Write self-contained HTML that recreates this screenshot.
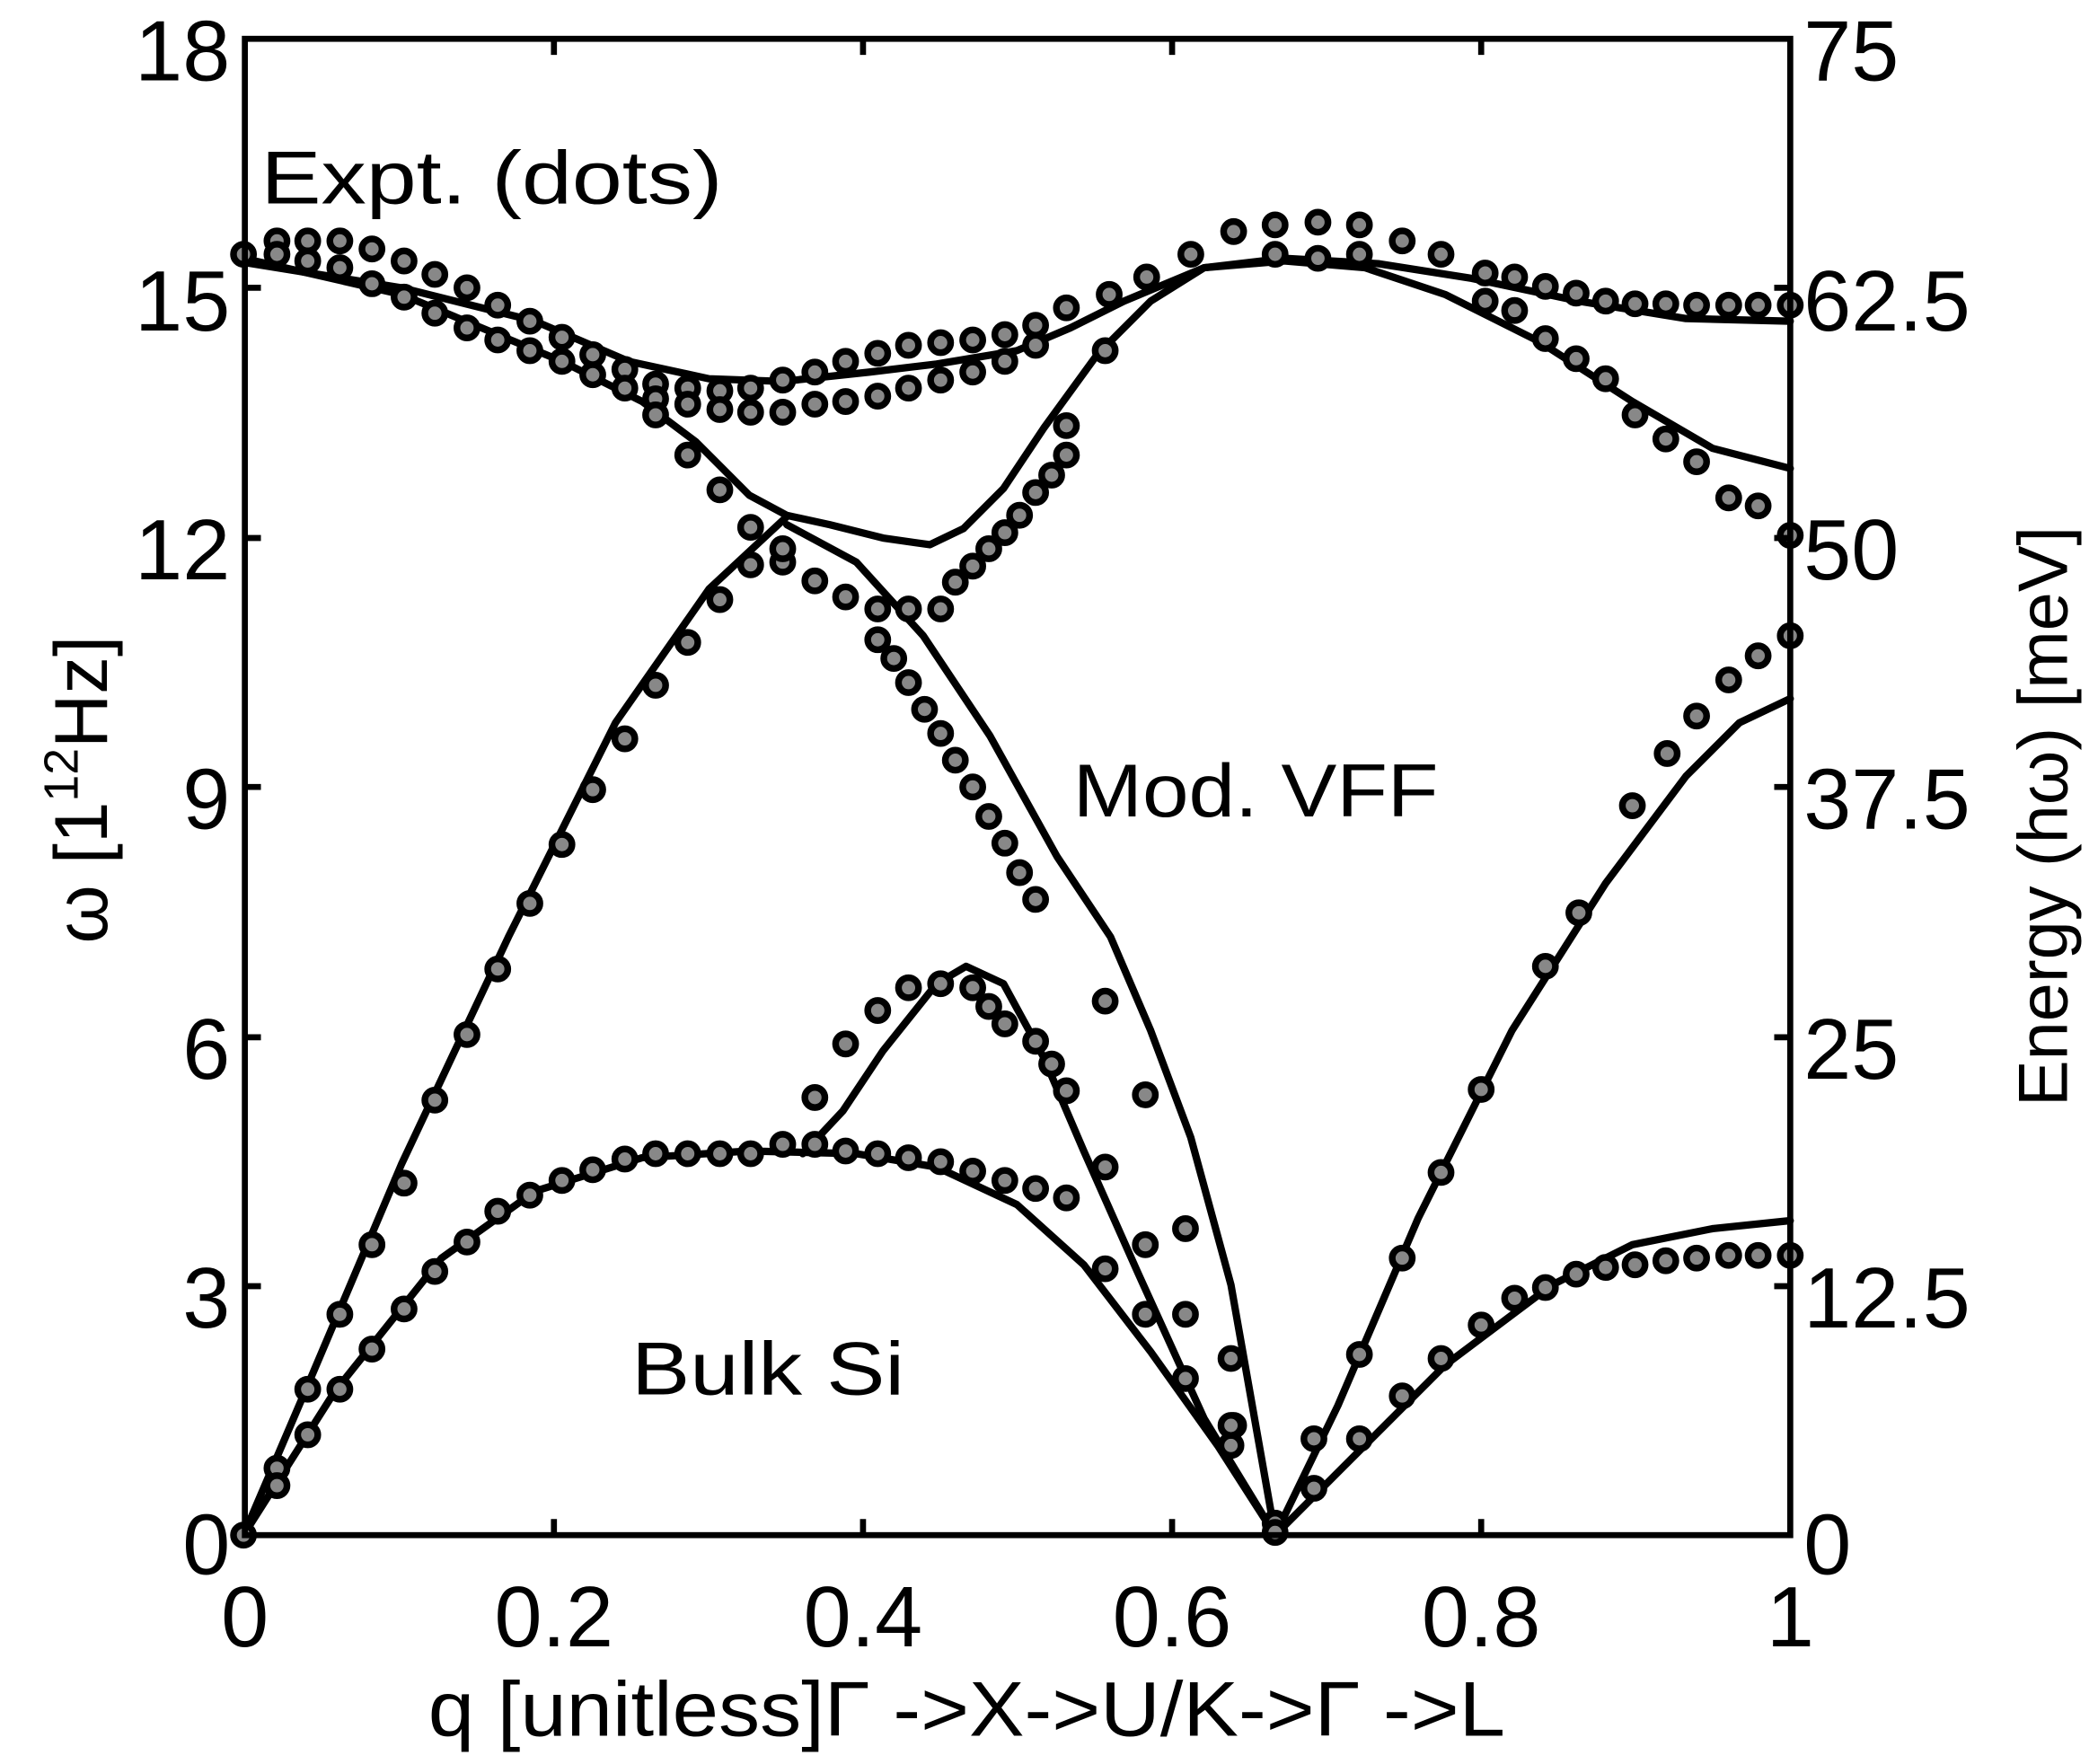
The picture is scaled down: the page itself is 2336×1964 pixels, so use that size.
<!DOCTYPE html>
<html><head><meta charset="utf-8"><style>html,body{margin:0;padding:0;background:#fff}svg{display:block}</style></head>
<body>
<svg width="2336" height="1964" viewBox="0 0 1568 1318" preserveAspectRatio="none" xmlns="http://www.w3.org/2000/svg" font-family="Liberation Sans, DejaVu Sans, sans-serif">
<rect width="1568" height="1318" fill="#fff"/>
<g fill="none" stroke="#000" stroke-width="5.5" stroke-linejoin="round" stroke-linecap="round">
<path d="M182,196 L300,215 L400,240 L470,270 L530,283 L585,285 L650,278 L700,272 L760,262 L800,245 L840,225 L900,200 L960,193 L1030,197 L1100,208 L1180,225 L1260,238 L1338,240"/>
<path d="M182,193 L300,220 L420,270 L480,300 L520,330 L560,370 L588,385 L620,392 L660,402 L695,407 L720,395 L750,365 L780,320 L820,265 L860,225 L900,200 L960,195 L1020,200 L1080,220 L1150,255 L1220,300 L1280,335 L1338,350"/>
<path d="M182,1147 L230,1035 L300,870 L380,700 L460,540 L530,440 L588,386"/>
<path d="M588,392 L640,420 L690,475 L740,550 L790,640 L830,700 L860,770 L890,850 L920,960 L953,1147"/>
<path d="M182,1147 L250,1040 L330,940 L400,890 L480,865 L560,860 L640,862 L700,872 L760,900 L810,945 L860,1010 L910,1080 L953,1147"/>
<path d="M600,862 L630,830 L660,785 L700,735 L722,722 L750,735 L780,790 L810,860 L850,950 L900,1060 L953,1147"/>
<path d="M953,1147 L1000,1050 L1060,910 L1130,770 L1200,660 L1260,580 L1300,540 L1338,522"/>
<path d="M953,1147 L1000,1100 L1080,1020 L1160,960 L1220,930 L1280,918 L1338,912"/>
</g>
<g fill="#888" stroke="#000" stroke-width="5">
<circle cx="182" cy="190" r="7.5"/><circle cx="207" cy="180" r="7.5"/><circle cx="230" cy="180" r="7.5"/><circle cx="254" cy="180" r="7.5"/><circle cx="278" cy="186" r="7.5"/><circle cx="302" cy="195" r="7.5"/><circle cx="325" cy="205" r="7.5"/><circle cx="349" cy="215" r="7.5"/><circle cx="372" cy="228" r="7.5"/><circle cx="396" cy="240" r="7.5"/><circle cx="420" cy="252" r="7.5"/><circle cx="443" cy="265" r="7.5"/><circle cx="467" cy="276" r="7.5"/><circle cx="490" cy="287" r="7.5"/><circle cx="514" cy="290" r="7.5"/><circle cx="538" cy="292" r="7.5"/><circle cx="561" cy="290" r="7.5"/><circle cx="585" cy="284" r="7.5"/><circle cx="609" cy="278" r="7.5"/><circle cx="632" cy="270" r="7.5"/><circle cx="656" cy="264" r="7.5"/><circle cx="679" cy="258" r="7.5"/><circle cx="703" cy="256" r="7.5"/><circle cx="727" cy="254" r="7.5"/><circle cx="751" cy="250" r="7.5"/><circle cx="774" cy="243" r="7.5"/><circle cx="797" cy="230" r="7.5"/><circle cx="829" cy="220" r="7.5"/><circle cx="857" cy="207" r="7.5"/><circle cx="890" cy="190" r="7.5"/><circle cx="922" cy="173" r="7.5"/><circle cx="953" cy="168" r="7.5"/><circle cx="985" cy="166" r="7.5"/><circle cx="1016" cy="168" r="7.5"/><circle cx="1048" cy="180" r="7.5"/><circle cx="1077" cy="190" r="7.5"/><circle cx="1110" cy="204" r="7.5"/><circle cx="1132" cy="207" r="7.5"/><circle cx="1155" cy="214" r="7.5"/><circle cx="1178" cy="219" r="7.5"/><circle cx="1200" cy="225" r="7.5"/><circle cx="1222" cy="227" r="7.5"/><circle cx="1245" cy="227" r="7.5"/><circle cx="1268" cy="228" r="7.5"/><circle cx="1292" cy="228" r="7.5"/><circle cx="1314" cy="228" r="7.5"/><circle cx="1338" cy="228" r="7.5"/>
<circle cx="207" cy="190" r="7.5"/><circle cx="230" cy="195" r="7.5"/><circle cx="254" cy="200" r="7.5"/><circle cx="278" cy="212" r="7.5"/><circle cx="302" cy="222" r="7.5"/><circle cx="325" cy="234" r="7.5"/><circle cx="349" cy="245" r="7.5"/><circle cx="372" cy="254" r="7.5"/><circle cx="396" cy="262" r="7.5"/><circle cx="420" cy="270" r="7.5"/><circle cx="443" cy="280" r="7.5"/><circle cx="467" cy="290" r="7.5"/><circle cx="490" cy="298" r="7.5"/><circle cx="514" cy="302" r="7.5"/><circle cx="538" cy="306" r="7.5"/><circle cx="561" cy="308" r="7.5"/><circle cx="585" cy="308" r="7.5"/><circle cx="609" cy="302" r="7.5"/><circle cx="632" cy="300" r="7.5"/><circle cx="656" cy="296" r="7.5"/><circle cx="679" cy="290" r="7.5"/><circle cx="703" cy="284" r="7.5"/><circle cx="727" cy="278" r="7.5"/><circle cx="751" cy="270" r="7.5"/><circle cx="774" cy="258" r="7.5"/><circle cx="953" cy="190" r="7.5"/><circle cx="985" cy="193" r="7.5"/><circle cx="1016" cy="190" r="7.5"/>
<circle cx="1110" cy="225" r="7.5"/><circle cx="1132" cy="232" r="7.5"/><circle cx="1155" cy="253" r="7.5"/><circle cx="1178" cy="268" r="7.5"/><circle cx="1200" cy="283" r="7.5"/><circle cx="1222" cy="310" r="7.5"/><circle cx="1245" cy="328" r="7.5"/><circle cx="1268" cy="345" r="7.5"/><circle cx="1292" cy="372" r="7.5"/><circle cx="1314" cy="378" r="7.5"/><circle cx="1338" cy="400" r="7.5"/>
<circle cx="490" cy="310" r="7.5"/><circle cx="514" cy="340" r="7.5"/><circle cx="538" cy="366" r="7.5"/><circle cx="561" cy="394" r="7.5"/><circle cx="585" cy="420" r="7.5"/><circle cx="609" cy="434" r="7.5"/><circle cx="632" cy="446" r="7.5"/><circle cx="656" cy="455" r="7.5"/><circle cx="679" cy="455" r="7.5"/><circle cx="703" cy="455" r="7.5"/><circle cx="714" cy="435" r="7.5"/><circle cx="727" cy="423" r="7.5"/><circle cx="739" cy="410" r="7.5"/><circle cx="751" cy="398" r="7.5"/><circle cx="762" cy="385" r="7.5"/><circle cx="774" cy="368" r="7.5"/><circle cx="786" cy="355" r="7.5"/><circle cx="797" cy="340" r="7.5"/><circle cx="797" cy="318" r="7.5"/><circle cx="826" cy="262" r="7.5"/>
<circle cx="656" cy="478" r="7.5"/><circle cx="668" cy="492" r="7.5"/><circle cx="679" cy="510" r="7.5"/><circle cx="691" cy="530" r="7.5"/><circle cx="703" cy="548" r="7.5"/><circle cx="714" cy="568" r="7.5"/><circle cx="727" cy="588" r="7.5"/><circle cx="739" cy="610" r="7.5"/><circle cx="751" cy="630" r="7.5"/><circle cx="762" cy="652" r="7.5"/><circle cx="774" cy="672" r="7.5"/><circle cx="826" cy="748" r="7.5"/><circle cx="856" cy="818" r="7.5"/><circle cx="886" cy="918" r="7.5"/><circle cx="920" cy="1015" r="7.5"/><circle cx="922" cy="1065" r="7.5"/><circle cx="953" cy="1138" r="7.5"/>
<circle cx="182" cy="1147" r="7.5"/><circle cx="207" cy="1097" r="7.5"/><circle cx="230" cy="1038" r="7.5"/><circle cx="254" cy="982" r="7.5"/><circle cx="278" cy="930" r="7.5"/><circle cx="302" cy="884" r="7.5"/><circle cx="325" cy="822" r="7.5"/><circle cx="349" cy="773" r="7.5"/><circle cx="372" cy="724" r="7.5"/><circle cx="396" cy="675" r="7.5"/><circle cx="420" cy="631" r="7.5"/><circle cx="443" cy="590" r="7.5"/><circle cx="467" cy="552" r="7.5"/><circle cx="490" cy="512" r="7.5"/><circle cx="514" cy="480" r="7.5"/><circle cx="538" cy="448" r="7.5"/><circle cx="561" cy="422" r="7.5"/><circle cx="585" cy="410" r="7.5"/>
<circle cx="207" cy="1110" r="7.5"/><circle cx="230" cy="1072" r="7.5"/><circle cx="254" cy="1038" r="7.5"/><circle cx="278" cy="1008" r="7.5"/><circle cx="302" cy="978" r="7.5"/><circle cx="325" cy="950" r="7.5"/><circle cx="349" cy="928" r="7.5"/><circle cx="372" cy="905" r="7.5"/><circle cx="396" cy="893" r="7.5"/><circle cx="420" cy="882" r="7.5"/><circle cx="443" cy="874" r="7.5"/><circle cx="467" cy="866" r="7.5"/><circle cx="490" cy="862" r="7.5"/><circle cx="514" cy="862" r="7.5"/><circle cx="538" cy="862" r="7.5"/><circle cx="561" cy="862" r="7.5"/><circle cx="585" cy="855" r="7.5"/><circle cx="609" cy="855" r="7.5"/><circle cx="632" cy="860" r="7.5"/><circle cx="656" cy="862" r="7.5"/><circle cx="679" cy="865" r="7.5"/><circle cx="703" cy="868" r="7.5"/><circle cx="727" cy="875" r="7.5"/><circle cx="751" cy="882" r="7.5"/><circle cx="774" cy="888" r="7.5"/><circle cx="797" cy="895" r="7.5"/><circle cx="826" cy="948" r="7.5"/><circle cx="856" cy="982" r="7.5"/><circle cx="886" cy="1030" r="7.5"/><circle cx="920" cy="1080" r="7.5"/><circle cx="953" cy="1145" r="7.5"/>
<circle cx="609" cy="820" r="7.5"/><circle cx="632" cy="780" r="7.5"/><circle cx="656" cy="755" r="7.5"/><circle cx="679" cy="738" r="7.5"/><circle cx="703" cy="735" r="7.5"/><circle cx="727" cy="738" r="7.5"/><circle cx="739" cy="752" r="7.5"/><circle cx="751" cy="765" r="7.5"/><circle cx="774" cy="778" r="7.5"/><circle cx="786" cy="795" r="7.5"/><circle cx="797" cy="815" r="7.5"/><circle cx="826" cy="872" r="7.5"/><circle cx="856" cy="930" r="7.5"/><circle cx="886" cy="982" r="7.5"/><circle cx="920" cy="1065" r="7.5"/>
<circle cx="982" cy="1075" r="7.5"/><circle cx="1016" cy="1012" r="7.5"/><circle cx="1048" cy="940" r="7.5"/><circle cx="1077" cy="876" r="7.5"/><circle cx="1107" cy="814" r="7.5"/><circle cx="1155" cy="722" r="7.5"/><circle cx="1180" cy="682" r="7.5"/><circle cx="1220" cy="602" r="7.5"/><circle cx="1246" cy="563" r="7.5"/><circle cx="1268" cy="535" r="7.5"/><circle cx="1292" cy="508" r="7.5"/><circle cx="1314" cy="490" r="7.5"/><circle cx="1338" cy="475" r="7.5"/>
<circle cx="982" cy="1112" r="7.5"/><circle cx="1016" cy="1075" r="7.5"/><circle cx="1048" cy="1043" r="7.5"/><circle cx="1077" cy="1015" r="7.5"/><circle cx="1107" cy="990" r="7.5"/><circle cx="1132" cy="970" r="7.5"/><circle cx="1155" cy="962" r="7.5"/><circle cx="1178" cy="952" r="7.5"/><circle cx="1200" cy="947" r="7.5"/><circle cx="1222" cy="945" r="7.5"/><circle cx="1245" cy="942" r="7.5"/><circle cx="1268" cy="940" r="7.5"/><circle cx="1292" cy="938" r="7.5"/><circle cx="1314" cy="938" r="7.5"/><circle cx="1338" cy="938" r="7.5"/>
</g>
<g stroke="#000" stroke-width="4.5" fill="none">
<rect x="183" y="29" width="1155" height="1118"/>
<path d="M183,215h12M183,402h12M183,588h12M183,775h12M183,961h12M1338,215h-12M1338,402h-12M1338,588h-12M1338,775h-12M1338,961h-12M414,1147v-12M645,1147v-12M876,1147v-12M1107,1147v-12M414,29v12M645,29v12M876,29v12M1107,29v12"/>
</g>
<g font-size="64" fill="#000">
<g text-anchor="end"><text x="172" y="60">18</text><text x="172" y="247">15</text><text x="172" y="433">12</text><text x="172" y="619">9</text><text x="172" y="806">6</text><text x="172" y="992">3</text><text x="172" y="1176">0</text></g>
<g text-anchor="start"><text x="1348" y="60">75</text><text x="1348" y="247">62.5</text><text x="1348" y="433">50</text><text x="1348" y="619">37.5</text><text x="1348" y="806">25</text><text x="1348" y="992">12.5</text><text x="1348" y="1176">0</text></g>
<g text-anchor="middle"><text x="183" y="1230">0</text><text x="414" y="1230">0.2</text><text x="645" y="1230">0.4</text><text x="876" y="1230">0.6</text><text x="1107" y="1230">0.8</text><text x="1338" y="1230">1</text></g>
<text x="320" y="1297" font-size="58" textLength="805" lengthAdjust="spacingAndGlyphs">q [unitless]Γ -&gt;X-&gt;U/K-&gt;Γ -&gt;L</text>
<text transform="translate(80,590) rotate(-90)" text-anchor="middle" font-size="56">ω [1<tspan dy="-22" font-size="36">12</tspan><tspan dy="22">Hz]</tspan></text>
<text transform="translate(1545,610) rotate(-90)" text-anchor="middle" font-size="52">Energy (hω) [meV]</text>
<text x="195" y="152" font-size="56" textLength="345" lengthAdjust="spacingAndGlyphs">Expt. (dots)</text>
<text x="802" y="610" font-size="56" textLength="273" lengthAdjust="spacingAndGlyphs">Mod. VFF</text>
<text x="472" y="1042" font-size="56" textLength="204" lengthAdjust="spacingAndGlyphs">Bulk Si</text>
</g>
</svg>
</body></html>
